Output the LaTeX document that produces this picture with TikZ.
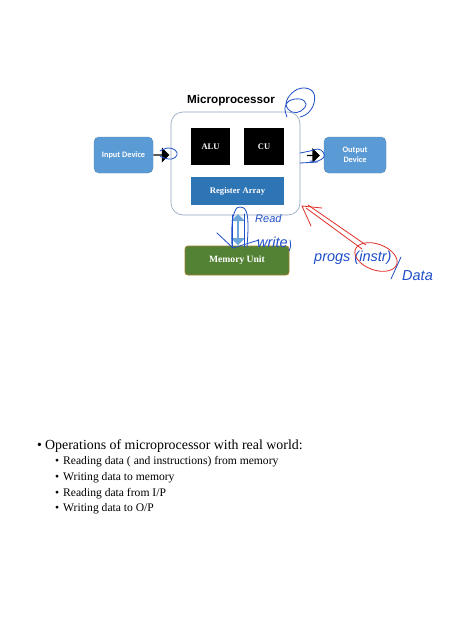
\documentclass[tikz,border=0pt]{standalone}
\usepackage{fontspec}
\usetikzlibrary{shapes.arrows,arrows.meta}
\newfontfamily\arialf{Liberation Sans}
\newfontfamily\timesf{Liberation Serif}
\newfontfamily\calf{Carlito}
\newfontfamily\handf{Liberation Sans}
\definecolor{lblue}{HTML}{5B9BD5}
\definecolor{dblue}{HTML}{2E75B6}
\definecolor{mgreen}{HTML}{548235}
\definecolor{gold}{HTML}{A08030}
\definecolor{boxline}{HTML}{8EA4BE}
\definecolor{ink}{HTML}{1F4FC8}
\definecolor{redink}{HTML}{E0302A}
\tikzset{
  devbox/.style={draw=lblue!85!black, fill=lblue, rounded corners=5pt, text=white, font=\calf\bfseries\fontsize{8.3}{9.5}\selectfont, align=center, inner sep=0pt},
  blkbox/.style={fill=black, text=white, font=\timesf\bfseries\fontsize{8.5}{10}\selectfont, inner sep=0pt},
  inkline/.style={draw=ink, line width=0.8pt, line cap=round, line join=round},
  redline/.style={draw=redink, line width=0.8pt, line cap=round, line join=round},
  handtext/.style={text=ink, font=\handf\itshape\fontsize{14.5}{16}\selectfont, inner sep=0pt},
  subitem/.style={anchor=base west, inner sep=0pt, font=\timesf\fontsize{11.6}{13}\selectfont},
  bul/.style={anchor=base west, inner sep=0pt}
}
\begin{document}
\begin{tikzpicture}[x=1pt,y=-1pt]
\useasboundingbox[fill=white] (0,0) rectangle (474,632);
% title
\node[font=\arialf\bfseries\fontsize{11.7}{13}\selectfont, inner sep=0pt] (micro) at (231,100) {Microprocessor};
% big box
\node[draw=boxline, line width=0.6pt, rounded corners=12pt, minimum width=129pt, minimum height=103pt, inner sep=0pt] (cpu) at (235.5,163.5) {};
\node[blkbox, minimum width=39pt, minimum height=37pt] (alu) at (210.5,146.5) {ALU};
\node[blkbox, minimum width=40pt, minimum height=37pt] (cu) at (264,146.5) {CU};
\node[fill=dblue, text=white, font=\timesf\bfseries\fontsize{8.6}{10}\selectfont, minimum width=93pt, minimum height=28pt, inner sep=0pt] (reg) at (237.5,191) {Register Array};
% devices
\node[devbox, minimum width=59pt, minimum height=36pt] (inp) at (123.5,155) {Input Device};
\node[devbox, minimum width=62pt, minimum height=36pt] (outp) at (355,155) {Output\\Device};
% memory
\node[draw=gold, line width=0.8pt, fill=mgreen, rounded corners=3pt, text=white, font=\timesf\bfseries\fontsize{9.6}{11}\selectfont, minimum width=104pt, minimum height=29pt, inner sep=0pt] (mem) at (237,260.5) {Memory Unit};
% block arrows
\node[single arrow, fill=black, minimum height=16pt, minimum width=15pt, single arrow head extend=2pt, inner sep=0pt, anchor=west] (inarrow) at (inp.east) {};
\node[single arrow, fill=black, minimum height=13pt, minimum width=15pt, single arrow head extend=2pt, inner sep=0pt] (outarrow) at (313,155.5) {};
\node[double arrow, fill=lblue!90, minimum height=31pt, minimum width=14pt, double arrow head extend=1.5pt, inner sep=0pt, rotate=90] (memarrow) at (238,229.5) {};
% handwriting: loop near title
\draw[inkline] plot[smooth, tension=0.7] coordinates {(287,117) (285,108) (289,101) (300,99) (306,104) (301,111) (292,112) (286,104) (292,93) (303,88) (313,92) (314,103) (308,113) (300,117)};
% handwriting: input arrow curl
\draw[inkline] plot[smooth, tension=0.7] coordinates {(160,151) (168,148) (175,150) (177,155) (172,159) (164,158) (160,156)};
% handwriting: output arrow strokes
\draw[inkline] plot[smooth, tension=0.6] coordinates {(300,153) (310,151) (318,149) (323,152) (324,157) (318,161) (310,161)};
\draw[inkline] (300,163) -- (318,162);
% handwriting: read/write marks around memory arrow
\draw[inkline] plot[smooth, tension=0.7] coordinates {(232,247) (232,225) (235,211) (240,207) (246,211) (248,225) (247,247)};
\draw[inkline] (232,215) -- (232,247);
\draw[inkline] (244,214) -- (244,247);
\draw[inkline] (217,233) -- (233,248) -- (259,240);
\node[handtext, font=\handf\itshape\fontsize{11}{12}\selectfont, anchor=west] (readt) at (255,219) {Read};
\node[handtext, anchor=west] (writet) at (257,242) {write};
\draw[inkline] (290,240) .. controls (291,246) .. (289,251);
% handwriting: progs (instr) / Data
\node[handtext, anchor=west] (progs) at (314,258) {progs (instr)};
\draw[inkline] (401,257) -- (391,279);
\node[handtext, anchor=west] (data) at (402,276) {Data};
% red ellipse and arrow
\draw[redline, rotate around={-20:(376,257)}] (376,257) ellipse [x radius=22pt, y radius=13pt];
\draw[redline] (306,208) -- (362,249);
\draw[redline] (308,205) -- (366,245);
\draw[redline] (302,206) -- (322,208);
\draw[redline] (302,206) -- (311,226);
% bullet list
\node[bul, font=\timesf\fontsize{13.9}{16}\selectfont] (b0) at (37,449) {\textbullet};
\node[bul, font=\timesf\fontsize{13.9}{16}\selectfont] (t0) at (45,449) {Operations of microprocessor with real world:};
\node[subitem] (b1) at (55,464) {\textbullet};
\node[subitem] (t1) at (63,464) {Reading data ( and instructions) from memory};
\node[subitem] (b2) at (55,480) {\textbullet};
\node[subitem] (t2) at (63,480) {Writing data to memory};
\node[subitem] (b3) at (55,496) {\textbullet};
\node[subitem] (t3) at (63,496) {Reading data from I/P};
\node[subitem] (b4) at (55,511) {\textbullet};
\node[subitem] (t4) at (63,511) {Writing data to O/P};
\end{tikzpicture}
\end{document}
